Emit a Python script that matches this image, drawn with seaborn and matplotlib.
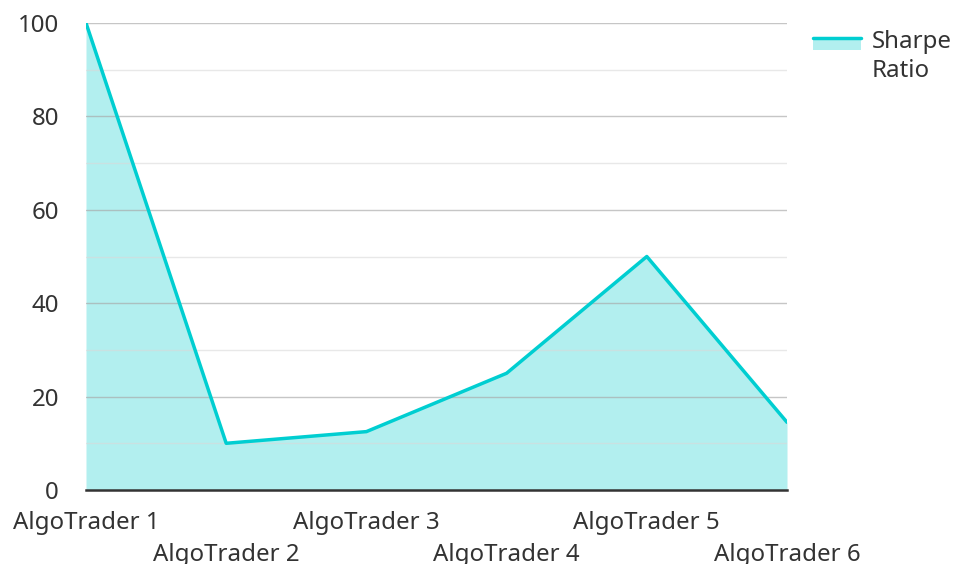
import matplotlib
matplotlib.use("Agg")
import matplotlib.pyplot as plt
import seaborn as sns
import pandas as pd
from matplotlib.legend_handler import HandlerBase
from matplotlib.patches import Rectangle
from matplotlib.lines import Line2D

categories = ["AlgoTrader 1", "AlgoTrader 2", "AlgoTrader 3",
              "AlgoTrader 4", "AlgoTrader 5", "AlgoTrader 6"]
sharpe = [100, 10, 12.5, 25, 50, 14.5]
series_name = "Sharpe\nRatio"
y_ticks = [0, 20, 40, 60, 80, 100]

line_color = "#00CED1"
fill_color = "#B2EFEF"
text_color = "#333333"
FS = 17.3

sns.set_theme(style="white")
plt.rcParams["font.family"] = ["Noto Sans", "DejaVu Sans"]

df = pd.DataFrame({"idx": range(len(categories)), "cat": categories, "val": sharpe})

fig = plt.figure(figsize=(9.57, 5.64), dpi=100)
ax = fig.add_axes([86 / 957, 74 / 564, (787 - 86) / 957, (490 - 23) / 564])

ax.fill_between(df["idx"], 0, df["val"], color=fill_color, linewidth=0, zorder=1)
sns.lineplot(data=df, x="idx", y="val", color=line_color, linewidth=2.5, ax=ax,
             zorder=3, legend=False)

# gridlines
for v in range(10, 100, 20):
    ax.axhline(v, color="#D9D9D9", linewidth=1, alpha=0.6, zorder=2)
for v in y_ticks[1:]:
    ax.axhline(v, color="#A8A8A8", linewidth=1, alpha=0.65, zorder=2)

ax.set_xlim(0, len(categories) - 1)
ax.set_ylim(0, 100)
ax.set_yticks(y_ticks)
ax.set_yticklabels([str(t) for t in y_ticks], fontsize=FS, color=text_color)
ax.set_xticks(df["idx"])
ax.set_xticklabels([c if i % 2 == 0 else "\n" + c for i, c in enumerate(categories)],
                   fontsize=FS, color=text_color, linespacing=1.48)
ax.tick_params(axis="both", length=0)
ax.tick_params(axis="x", pad=15)
ax.tick_params(axis="y", pad=19.5)
ax.set_xlabel("")
ax.set_ylabel("")
for s in ["top", "right", "left"]:
    ax.spines[s].set_visible(False)
ax.spines["bottom"].set_color("#333333")
ax.spines["bottom"].set_linewidth(1.8)
ax.spines["bottom"].set_zorder(5)


class AreaHandler(HandlerBase):
    def create_artists(self, legend, orig_handle, xdescent, ydescent, width, height,
                       fontsize, trans):
        h = 10.0
        c = -ydescent + height / 2 + 9.7
        rect = Rectangle((-xdescent, c - h / 2), width, h, facecolor=fill_color,
                         edgecolor="none", transform=trans)
        ln = Line2D([-xdescent, -xdescent + width], [c + h / 2 - 1, c + h / 2 - 1],
                    color=line_color, linewidth=2.5, transform=trans)
        return [rect, ln]


handle = Rectangle((0, 0), 1, 1)
leg = fig.legend([handle], [series_name], handler_map={Rectangle: AreaHandler()},
                 loc="upper left", bbox_to_anchor=(791 / 957, 1 - 8 / 564),
                 frameon=False, fontsize=FS, handlelength=2.0, handleheight=0.58,
                 handletextpad=0.46, labelcolor=text_color)
for t in leg.get_texts():
    t.set_linespacing(1.31)

fig.savefig("out.png", dpi=100)
